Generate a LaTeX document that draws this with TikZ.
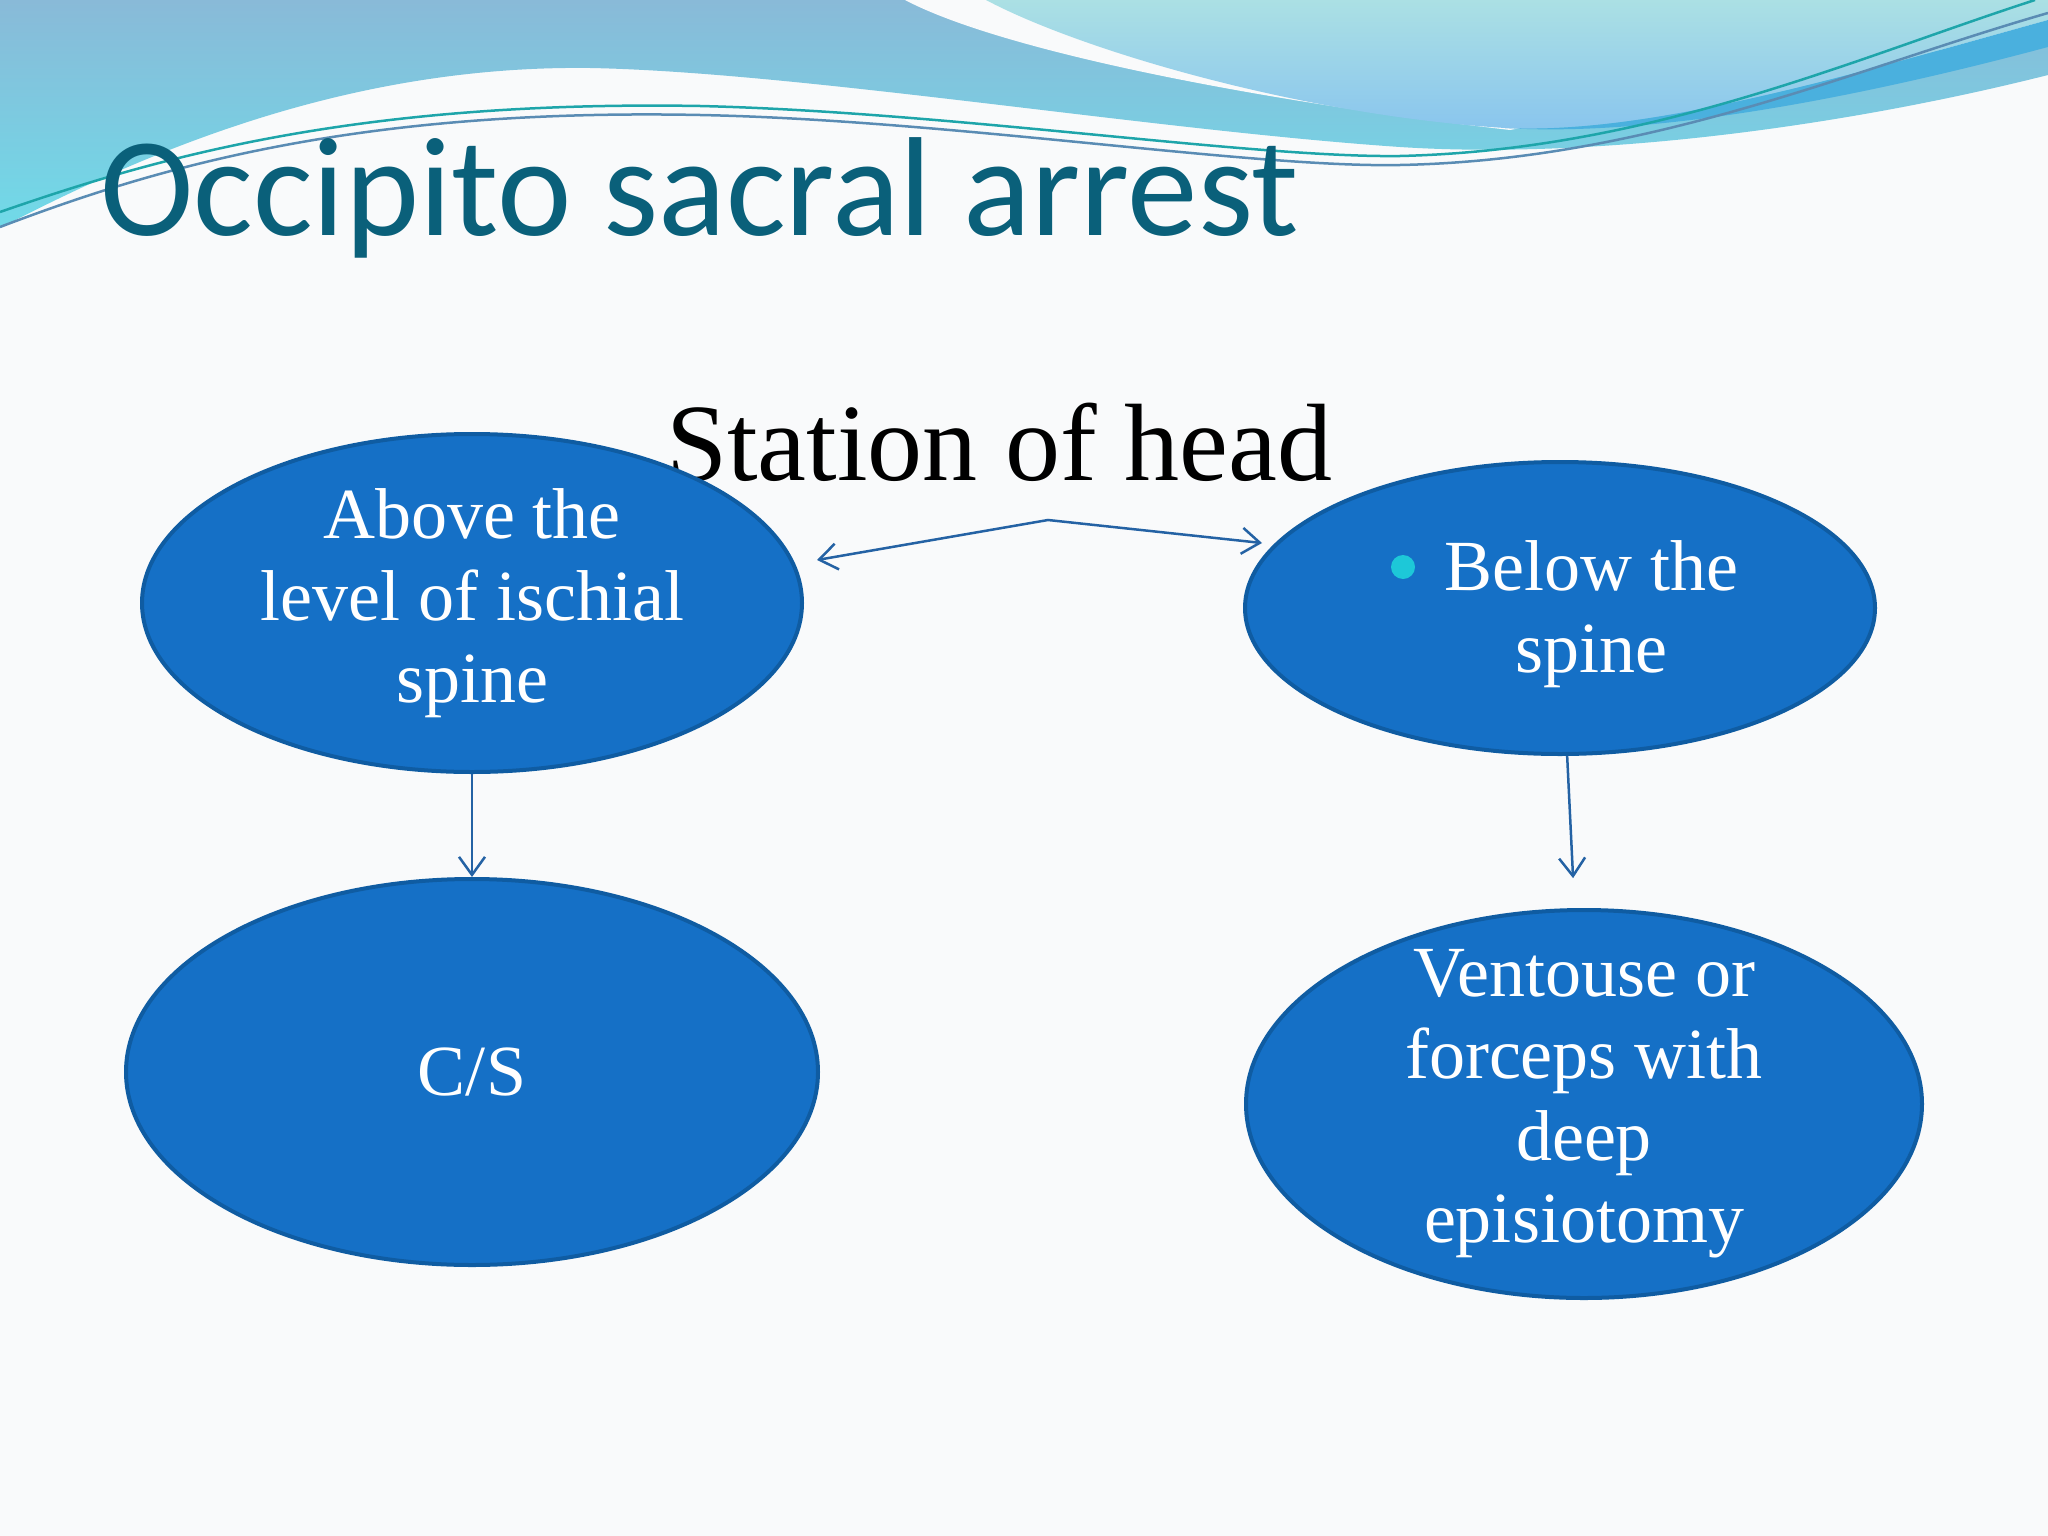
\documentclass[tikz,border=0pt]{standalone}
\usepackage{fontspec}
\setmainfont{Liberation Serif}
\newfontfamily\headfont{Carlito}
\usetikzlibrary{arrows.meta,shapes.geometric,positioning,calc}
\tikzset{>={Straight Barb[length=18pt,width=26pt]}}
\definecolor{pagebg}{RGB}{249,250,251}
\definecolor{titleteal}{RGB}{10,96,122}
\definecolor{ovalfill}{RGB}{21,112,198}
\definecolor{ovaledge}{RGB}{15,92,162}
\definecolor{linkblue}{RGB}{36,98,164}
\definecolor{bulletcyan}{RGB}{29,200,216}
\definecolor{waveTop}{RGB}{137,186,216}
\definecolor{waveLow}{RGB}{112,218,232}
\definecolor{paleTop}{RGB}{171,224,228}
\definecolor{paleLow}{RGB}{136,196,238}
\definecolor{stripe}{RGB}{74,176,222}

\begin{document}
\begin{tikzpicture}[x=1pt,y=-1pt,
  blob/.style={ellipse,draw=ovaledge,fill=ovalfill,line width=4pt,inner sep=0pt,text=white,align=center,font=\fontsize{72}{82}\selectfont},
  link/.style={draw=linkblue,line width=2.5pt}]
\useasboundingbox (0,0) rectangle (2048,1536);
\fill[pagebg] (0,0) rectangle (2048,1536);

%Shape: Wave (top band)
\shade[top color=waveTop,bottom color=waveLow] (0,0) -- (2048,0) -- (2048,75) .. controls (1850,125) and (1600,160) .. (1400,147) .. controls (1150,130) and (800,72) .. (590,68) .. controls (350,65) and (150,150) .. (0,228) -- cycle;
%Shape: White swoosh
\fill[pagebg] (905,0) .. controls (1000,50) and (1250,100) .. (1510,130) -- (2048,30) -- (2048,0) -- cycle;
%Shape: Pale wave
\shade[top color=paleTop,bottom color=paleLow] (986,0) -- (2048,0) -- (2048,20) .. controls (1850,75) and (1650,135) .. (1505,128) .. controls (1300,115) and (1080,50) .. (986,0) -- cycle;
%Shape: Stripe
\fill[stripe] (2048,20) .. controls (1850,75) and (1650,135) .. (1505,128) .. controls (1650,137) and (1850,100) .. (2048,47) -- cycle;
%Curve Lines
\draw[color={rgb,255:red,30;green,165;blue,170},line width=2.5pt] (0,212) .. controls (150,160) and (350,100) .. (700,106) .. controls (950,112) and (1250,158) .. (1400,156) .. controls (1650,150) and (1850,60) .. (2035,0);
\draw[color={rgb,255:red,90;green,140;blue,180},line width=2.5pt] (0,227) .. controls (150,170) and (350,108) .. (700,115) .. controls (950,120) and (1250,168) .. (1400,165) .. controls (1650,160) and (1850,70) .. (2048,13);

%Title
\node[anchor=base west,text=titleteal,font=\headfont\fontsize{141}{150}\selectfont,inner sep=0pt] (title) at (100,235) {Occipito sacral arrest};
\node[anchor=base west,font=\fontsize{110}{120}\selectfont,inner sep=0pt] (station) at (666,480) {Station of head};

%Shape: Ellipse
\node[blob,minimum width=660pt,minimum height=338pt] (above) at (472,603) {Above the\\level of ischial\\spine};
%Shape: Ellipse
\node[blob,minimum width=630pt,minimum height=292pt] (below) at (1560,608) {};
\node[text=white,align=center,font=\fontsize{72}{82}\selectfont,inner sep=0pt] (belowtext) at ($(below.center)+(31,6)$) {Below the\\spine};
\fill[bulletcyan] ($(belowtext.center)+(-188,-47)$) circle (12);
%Shape: Ellipse
\node[blob,minimum width=692pt,minimum height=386pt] (cs) at (472,1072) {C/S};
%Shape: Ellipse
\node[blob,inner ysep=-25pt,minimum width=676pt,minimum height=388pt] (vent) at (1584,1104) {Ventouse or\\forceps with\\deep\\episiotomy};

%Straight Lines
\coordinate (fork) at (1048,520);
\coordinate (forkL) at (817,560);
\coordinate (forkR) at (1262,543);
\draw[link,<->] (forkL) -- (fork) -- (forkR);
\draw[link,->] (above) -- (cs);
\draw[link,->,shorten >=30pt] (below) -- (vent);
\end{tikzpicture}
\end{document}
